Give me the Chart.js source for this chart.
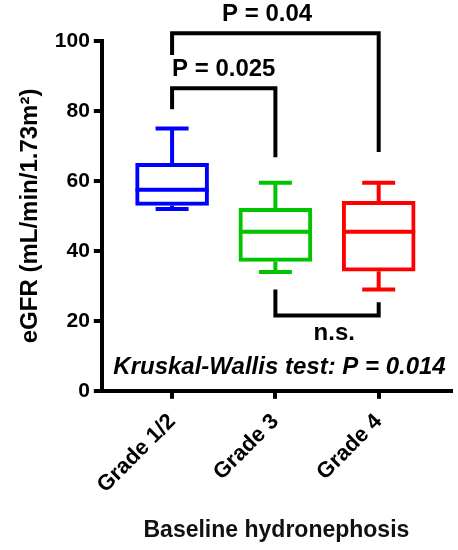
<!DOCTYPE html>
<html>
<head>
<meta charset="utf-8">
<script src="https://cdn.jsdelivr.net/npm/chart.js@4"></script>
<style>
  body { margin: 0; background: #fff; }
  #wrap { width: 458px; height: 550px; }
</style>
</head>
<body>
<div id="wrap"><canvas id="boxChart"></canvas></div>
<script>
// Baseline hydronephosis groups and eGFR box statistics
const categories = ['Grade 1/2', 'Grade 3', 'Grade 4'];
const colors = ['#0000ff', '#00c400', '#ff0000'];
const whiskerMin = [52, 34, 29];
const q1 = [53, 37, 34.2];
const median = [57.5, 45.5, 45.5];
const q3 = [65, 52.2, 54.2];
const whiskerMax = [75, 59.5, 59.5];
const yTicks = [0, 20, 40, 60, 80, 100];

// significance brackets: left leg end, bar level, right leg end (eGFR units)
const brackets = [
    { from: 0, to: 2, left: 96, level: 102.2, right: 68.3, label: 'P = 0.04', lx: 0.92, ly: 107.5 },
    { from: 0, to: 1, left: 80.5, level: 86.5, right: 66.8, label: 'P = 0.025', lx: 0.5, ly: 91.8 },
    { from: 1, to: 2, left: 29, level: 21.5, right: 25.3, label: 'n.s.', lx: 1.57, ly: 16.3 }
];

const FONT = "'Liberation Sans', Arial, sans-serif";

const boxPlugin = {
    id: 'boxPlugin',
    afterDatasetsDraw(chart) {
        const { ctx, scales: { x, y } } = chart;
        ctx.save();
        ctx.lineWidth = 4;
        ctx.lineCap = 'butt';
        const boxW = 73, capW = 33;
        categories.forEach((c, i) => {
            const cx = x.getPixelForValue(i);
            ctx.strokeStyle = colors[i];
            ctx.beginPath();
            // upper whisker
            ctx.moveTo(cx, y.getPixelForValue(q3[i]));
            ctx.lineTo(cx, y.getPixelForValue(whiskerMax[i]));
            ctx.moveTo(cx - capW / 2, y.getPixelForValue(whiskerMax[i]));
            ctx.lineTo(cx + capW / 2, y.getPixelForValue(whiskerMax[i]));
            // lower whisker
            ctx.moveTo(cx, y.getPixelForValue(q1[i]));
            ctx.lineTo(cx, y.getPixelForValue(whiskerMin[i]));
            ctx.moveTo(cx - capW / 2, y.getPixelForValue(whiskerMin[i]));
            ctx.lineTo(cx + capW / 2, y.getPixelForValue(whiskerMin[i]));
            // median
            ctx.moveTo(cx - boxW / 2, y.getPixelForValue(median[i]));
            ctx.lineTo(cx + boxW / 2, y.getPixelForValue(median[i]));
            ctx.stroke();
        });

        // brackets + labels
        ctx.strokeStyle = '#000';
        ctx.fillStyle = '#000';
        ctx.lineJoin = 'miter';
        ctx.textAlign = 'center';
        ctx.textBaseline = 'middle';
        ctx.font = 'bold 24px ' + FONT;
        brackets.forEach(b => {
            const x1 = x.getPixelForValue(b.from), x2 = x.getPixelForValue(b.to);
            ctx.beginPath();
            ctx.moveTo(x1, y.getPixelForValue(b.left));
            ctx.lineTo(x1, y.getPixelForValue(b.level));
            ctx.lineTo(x2, y.getPixelForValue(b.level));
            ctx.lineTo(x2, y.getPixelForValue(b.right));
            ctx.stroke();
            ctx.fillText(b.label, x.getPixelForValue(b.lx), y.getPixelForValue(b.ly));
        });

        ctx.font = 'italic bold 24px ' + FONT;
        ctx.fillText('Kruskal-Wallis test: P = 0.014', x.getPixelForValue(1.04), y.getPixelForValue(6.6));
        ctx.restore();
    }
};

new Chart(document.getElementById('boxChart'), {
    type: 'bar',
    data: {
        datasets: [{
            data: categories.map((c, i) => ({ x: i, y: [q1[i], q3[i]] })),
            backgroundColor: '#ffffff',
            borderColor: colors,
            borderWidth: 4,
            borderSkipped: false,
            barThickness: 73
        }]
    },
    options: {
        responsive: true,
        maintainAspectRatio: false,
        animation: false,
        layout: { padding: { top: 41, right: 7, left: 12, bottom: 2 } },
        plugins: {
            legend: { display: false },
            tooltip: { enabled: false }
        },
        scales: {
            x: {
                type: 'linear',
                offset: false,
                min: -0.68,
                max: 2.7,
                afterBuildTicks: s => { s.ticks = categories.map((c, i) => ({ value: i })); },
                grid: { offset: false, drawOnChartArea: false, drawTicks: true, tickLength: 8, lineWidth: 4, color: '#000' },
                border: { color: '#000', width: 4 },
                ticks: {
                    callback: v => categories[v],
                    minRotation: 45,
                    maxRotation: 45,
                    padding: 10,
                    color: '#000',
                    font: { family: FONT, size: 22, weight: 'bold' }
                },
                title: {
                    display: true,
                    text: 'Baseline hydronephosis',
                    color: '#111',
                    padding: { top: 8 },
                    font: { family: FONT, size: 23, weight: 'bold' }
                }
            },
            y: {
                min: 0,
                max: 100,
                afterBuildTicks: s => { s.ticks = yTicks.map(v => ({ value: v })); },
                grid: { drawOnChartArea: false, drawTicks: true, tickLength: 8, lineWidth: 4, color: '#000' },
                border: { color: '#000', width: 4 },
                ticks: {
                    color: '#000',
                    padding: 4,
                    font: { family: FONT, size: 21, weight: 'bold' }
                },
                title: {
                    display: true,
                    text: 'eGFR (mL/min/1.73m²)',
                    color: '#000',
                    padding: { bottom: 6 },
                    font: { family: FONT, size: 24, weight: 'bold' }
                }
            }
        }
    },
    plugins: [boxPlugin]
});
</script>
</body>
</html>
